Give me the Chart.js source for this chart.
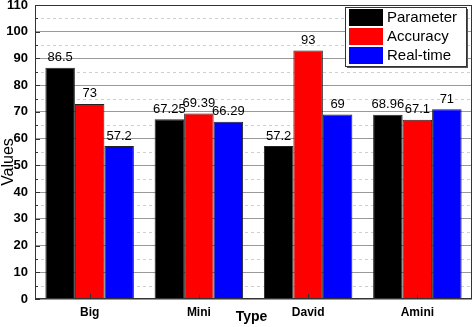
<!DOCTYPE html>
<html><head><meta charset="utf-8">
<script src="https://cdn.jsdelivr.net/npm/chart.js@4/dist/chart.umd.min.js"></script>
<style>html,body{margin:0;padding:0;background:#fff;overflow:hidden;}</style>
</head><body>
<canvas id="c" width="474" height="327"></canvas>
<script>
const categories = ['Big', 'Mini', 'David', 'Amini'];
const parameterValues = [86.5, 67.25, 57.2, 68.96];
const accuracyValues = [73, 69.39, 93, 67.1];
const realtimeValues = [57.2, 66.29, 69, 71];
const seriesNames = ['Parameter', 'Accuracy', 'Real-time'];
const seriesColors = ['#000000', '#ff0000', '#0000ff'];
const yMin = 0, yMax = 110, yStep = 10, yMinorStep = 5;
const xTitle = 'Type', yTitle = 'Values';

const FONT = "'Liberation Sans', Arial, sans-serif";

const decor = {
  id: 'decor',
  beforeDatasetsDraw(chart) {
    const {ctx, chartArea: a, scales: {y}} = chart;
    ctx.save();
    ctx.strokeStyle = '#cfcfcf';
    ctx.lineWidth = 1;
    ctx.setLineDash([3, 3]);
    for (let v = yMin + yMinorStep; v < yMax; v += yStep) {
      const py = Math.round(y.getPixelForValue(v)) + 0.5;
      ctx.beginPath(); ctx.moveTo(a.left, py); ctx.lineTo(a.right, py); ctx.stroke();
    }
    ctx.restore();
  },
  afterDatasetsDraw(chart) {
    const {ctx, chartArea: a, scales: {x, y}} = chart;
    ctx.save();
    // data labels
    ctx.font = '13px ' + FONT;
    ctx.fillStyle = '#000';
    ctx.textAlign = 'center';
    ctx.textBaseline = 'middle';
    chart.data.datasets.forEach((ds, di) => {
      const meta = chart.getDatasetMeta(di);
      meta.data.forEach((bar, i) => {
        ctx.fillText(String(ds.data[i]), bar.x, bar.y - 10);
      });
    });
    // frame
    ctx.strokeStyle = '#333';
    ctx.lineWidth = 1;
    ctx.strokeRect(Math.round(a.left) + 0.5, Math.round(a.top) + 0.5, Math.round(a.right - a.left) - 1, Math.round(a.bottom - a.top) - 1);
    // y ticks inward
    ctx.beginPath();
    for (let v = yMin; v <= yMax; v += yMinorStep) {
      const py = Math.round(y.getPixelForValue(v)) + 0.5;
      const len = (v % yStep === 0) ? 5 : 3;
      ctx.moveTo(a.left, py); ctx.lineTo(a.left + len, py);
    }
    // x ticks inward
    categories.forEach((c, i) => {
      const px = Math.round(x.getPixelForValue(i)) + 0.5;
      ctx.moveTo(px, a.bottom); ctx.lineTo(px, a.bottom - 5);
    });
    ctx.stroke();
    // legend
    const bw = 121, bh = 59;
    const bx = a.right - 6 - bw, by = a.top + 2;
    ctx.fillStyle = '#555';
    ctx.fillRect(bx + 2, by + 2, bw, bh);
    ctx.fillStyle = '#fff';
    ctx.fillRect(bx, by, bw, bh);
    ctx.strokeStyle = '#333';
    ctx.strokeRect(Math.round(bx) + 0.5, Math.round(by) + 0.5, bw, bh);
    ctx.font = '15px ' + FONT;
    ctx.textAlign = 'left';
    chart.data.datasets.forEach((ds, di) => {
      const ry = by + 2 + di * 19;
      ctx.fillStyle = ds.backgroundColor;
      ctx.fillRect(bx + 4, ry, 34, 17);
      ctx.fillStyle = '#000';
      ctx.fillText(ds.label, bx + 42, ry + 9);
    });
    // axis titles
    ctx.fillStyle = '#000';
    ctx.font = 'bold 14px ' + FONT;
    ctx.textAlign = 'center';
    ctx.fillText(xTitle, (a.left + a.right) / 2 - 2, 317);
    ctx.save();
    ctx.translate(9, (a.top + a.bottom) / 2 + 10);
    ctx.rotate(-Math.PI / 2);
    ctx.font = '16px ' + FONT;
    ctx.fillText(yTitle, 0, 0);
    ctx.restore();
    ctx.restore();
  }
};

const seriesData = [parameterValues, accuracyValues, realtimeValues];

new Chart(document.getElementById('c'), {
  type: 'bar',
  data: {
    labels: categories,
    datasets: seriesNames.map((n, i) => ({
      label: n,
      data: seriesData[i],
      backgroundColor: seriesColors[i],
      borderColor: '#222',
      borderWidth: 1,
      barPercentage: 1,
      categoryPercentage: 0.81
    }))
  },
  options: {
    responsive: false,
    animation: false,
    devicePixelRatio: 1,
    layout: {padding: {top: 0, right: 2, left: 0, bottom: 0}},
    plugins: {legend: {display: false}, tooltip: {enabled: false}},
    scales: {
      x: {
        offset: true,
        grid: {display: false, drawTicks: false},
        border: {display: false},
        ticks: {color: '#000', font: {family: FONT, size: 12, weight: 'bold'}, padding: 6},
        afterFit(s) { s.height = 28; }
      },
      y: {
        min: yMin, max: yMax,
        grid: {color: '#999', drawTicks: false, lineWidth: 1},
        border: {display: false},
        ticks: {stepSize: yStep, color: '#000', font: {family: FONT, size: 13, weight: 'bold'}, padding: 7},
        afterFit(s) { s.width = 35; s.paddingTop = 5; s.paddingBottom = 5; }
      }
    }
  },
  plugins: [decor]
});
</script>
</body></html>
